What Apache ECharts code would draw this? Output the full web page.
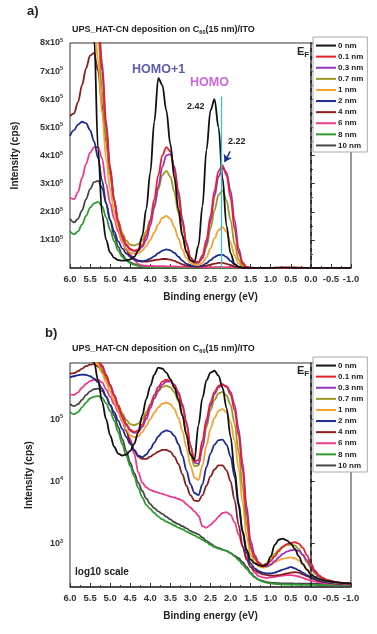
<!DOCTYPE html>
<html>
<head>
<meta charset="utf-8">
<script src="https://cdn.jsdelivr.net/npm/echarts@6/dist/echarts.min.js"></script>
<style>
  html, body { margin: 0; padding: 0; background: #fff; }
  #chart { width: 377px; height: 634px; }
</style>
</head>
<body>
<div id="chart"></div>
<script>
// binding energy grid (eV), shared by every spectrum
const energy = [6.0, 5.9, 5.8, 5.7, 5.6, 5.5, 5.4, 5.3, 5.2, 5.1, 5.0, 4.9, 4.8, 4.7, 4.6, 4.5, 4.4, 4.3, 4.2, 4.1,
  4.0, 3.9, 3.8, 3.7, 3.6, 3.5, 3.4, 3.3, 3.2, 3.1, 3.0, 2.9, 2.8, 2.7, 2.6, 2.5, 2.4, 2.3, 2.2, 2.1,
  2.0, 1.9, 1.8, 1.7, 1.6, 1.5, 1.4, 1.3, 1.2, 1.1, 1.0, 0.9, 0.8, 0.7, 0.6, 0.5, 0.4, 0.3, 0.2, 0.1,
  0.0, -0.1, -0.2, -0.3, -0.4, -0.5, -0.6, -0.7, -0.8, -0.9, -1.0]

const thickness = ['0 nm', '0.1 nm', '0.3 nm', '0.7 nm', '1 nm', '2 nm', '4 nm', '6 nm', '8 nm', '10 nm']
const colors = ['#111111', '#e8202a', '#9632c0', '#9a9a1e', '#f5a030', '#1c2a8c', '#8b1c1c', '#ee3a8c', '#2e9a30', '#454545']

// intensity (cps)
const cps0 = [1150000, 1180000, 1200000, 1200000, 1150000, 1050000, 820000, 420000, 190000, 100000,
  55000, 36000, 28000, 26000, 27000, 31000, 40000, 62000, 115000, 210000,
  340000, 520000, 675000, 650000, 560000, 440000, 320000, 210000, 115000, 56000,
  27000, 22000, 80000, 220000, 420000, 560000, 600000, 500000, 320000, 150000,
  52000, 15000, 4500, 1600, 800, 550, 480, 450, 430, 460,
  620, 950, 1150, 1200, 1120, 1000, 820, 620, 470, 380,
  320, 290, 270, 258, 250, 245, 240, 235, 232, 230, 230]
const cps01 = [1100000, 1120000, 1150000, 1150000, 1100000, 1000000, 950000, 880000, 700000, 500000,
  350000, 240000, 165000, 115000, 85000, 68000, 62000, 66000, 82000, 115000,
  170000, 245000, 330000, 400000, 430000, 415000, 350000, 255000, 160000, 85000,
  38000, 21000, 22000, 45000, 100000, 185000, 275000, 345000, 365000, 330000,
  250000, 140000, 55000, 15000, 3000, 900, 600, 480, 450, 460,
  520, 620, 750, 880, 980, 1020, 1050, 1000, 850, 650,
  480, 370, 310, 280, 260, 250, 242, 236, 232, 228, 225]
const cps03 = [1100000, 1120000, 1150000, 1150000, 1120000, 1020000, 960000, 900000, 730000, 520000,
  360000, 245000, 165000, 110000, 80000, 65000, 60000, 62000, 75000, 100000,
  150000, 215000, 290000, 360000, 400000, 405000, 360000, 275000, 175000, 90000,
  38000, 20000, 19000, 35000, 85000, 165000, 255000, 325000, 355000, 340000,
  275000, 170000, 70000, 20000, 4000, 1100, 650, 500, 440, 430,
  460, 520, 600, 680, 740, 780, 790, 760, 660, 540,
  430, 350, 300, 275, 258, 248, 240, 235, 230, 227, 225]
const cps07 = [1100000, 1120000, 1150000, 1150000, 1100000, 1000000, 920000, 830000, 630000, 460000,
  330000, 240000, 170000, 125000, 97000, 83000, 80000, 85000, 100000, 130000,
  170000, 220000, 280000, 330000, 345000, 325000, 270000, 195000, 115000, 58000,
  27000, 17500, 18000, 35000, 75000, 140000, 205000, 260000, 275000, 240000,
  170000, 85000, 30000, 8000, 2000, 800, 560, 470, 450, 480,
  560, 680, 800, 900, 950, 960, 930, 820, 650, 500,
  400, 330, 290, 268, 255, 246, 240, 235, 231, 228, 226]
const cps1 = [1080000, 1100000, 1120000, 1120000, 1060000, 950000, 860000, 740000, 550000, 390000,
  280000, 200000, 140000, 95000, 68000, 55000, 51000, 53000, 62000, 78000,
  100000, 127000, 155000, 178000, 185000, 175000, 145000, 105000, 65000, 35000,
  18000, 11500, 10500, 18000, 38000, 70000, 105000, 135000, 145000, 128000,
  90000, 45000, 16000, 4500, 1300, 650, 500, 430, 410, 420,
  450, 500, 540, 570, 590, 600, 580, 530, 460, 390,
  330, 290, 268, 255, 247, 241, 236, 232, 229, 226, 224]
const cps2 = [470000, 490000, 510000, 520000, 515000, 490000, 450000, 390000, 310000, 230000,
  170000, 130000, 95000, 70000, 52000, 40000, 32000, 26000, 24500, 27000,
  33000, 42000, 53000, 62000, 66000, 63000, 54000, 40000, 26000, 15000,
  9000, 6500, 6000, 9000, 17000, 28000, 39000, 46000, 47000, 39000,
  25000, 12000, 4000, 1500, 700, 480, 400, 360, 340, 330,
  330, 340, 360, 380, 400, 420, 400, 370, 340, 310,
  290, 270, 255, 245, 238, 234, 230, 228, 226, 224, 222]
const cps4 = [540000, 550000, 590000, 650000, 710000, 755000, 765000, 700000, 580000, 450000,
  340000, 240000, 160000, 100000, 65000, 43000, 31000, 25000, 23000, 23000,
  25000, 27500, 30000, 32000, 32000, 30000, 25000, 19000, 13000, 8500,
  6000, 4900, 4800, 6000, 8500, 12000, 15500, 18000, 18000, 15000,
  10000, 5000, 2000, 900, 550, 420, 370, 340, 320, 310,
  305, 305, 310, 320, 330, 340, 345, 340, 320, 300,
  280, 265, 252, 243, 237, 232, 229, 226, 224, 222, 220]
const cps6 = [250000, 245000, 270000, 320000, 370000, 410000, 430000, 430000, 390000, 300000,
  230000, 175000, 130000, 92000, 66000, 48000, 28000, 14000, 9500, 8000,
  7300, 6900, 6600, 6300, 6000, 5700, 5500, 5200, 4900, 4300,
  3800, 3300, 2800, 1900, 1800, 2000, 2300, 2700, 3100, 3200,
  2900, 2200, 1400, 900, 600, 420, 340, 300, 285, 280,
  285, 290, 300, 305, 310, 310, 305, 295, 280, 265,
  255, 245, 238, 233, 229, 226, 224, 222, 221, 220, 219]
const cps8 = [130000, 120000, 130000, 155000, 185000, 215000, 230000, 235000, 220000, 180000,
  135000, 95000, 62000, 40000, 26000, 17500, 12000, 7800, 5500, 4200,
  3600, 3100, 2700, 2450, 2250, 2100, 1950, 1800, 1700, 1550,
  1450, 1350, 1250, 1150, 1050, 950, 880, 830, 800, 760,
  700, 620, 540, 460, 390, 330, 285, 260, 245, 235,
  228, 224, 222, 220, 219, 218, 218, 217, 217, 216,
  216, 216, 215, 215, 215, 215, 215, 215, 215, 215, 215]
const cps10 = [175000, 162000, 175000, 205000, 245000, 280000, 305000, 310000, 285000, 230000,
  170000, 115000, 75000, 48000, 31000, 20000, 13500, 9500, 7000, 5300,
  4300, 3700, 3300, 3000, 2700, 2450, 2200, 2050, 1900, 1750,
  1600, 1500, 1400, 1250, 1100, 1000, 900, 850, 800, 760,
  700, 640, 580, 500, 420, 340, 290, 262, 250, 240,
  235, 232, 230, 229, 228, 228, 227, 227, 226, 226,
  226, 225, 225, 225, 225, 225, 225, 225, 225, 225, 225]
const spectra = [cps0, cps01, cps03, cps07, cps1, cps2, cps4, cps6, cps8, cps10]

const xTicks = {min: -1, max: 6, interval: 0.5}
const linMax = 800000
const logRange = [200, 800000]

const font = 'Liberation Sans, Arial, sans-serif'
const chart = echarts.init(document.getElementById('chart'))

const xAxisOptions = function (gridIndex) {
  return {
    type: 'value',
    gridIndex: gridIndex,
    inverse: true,
    min: xTicks.min,
    max: xTicks.max,
    interval: xTicks.interval,
    name: 'Binding energy (eV)',
    nameLocation: 'middle',
    nameGap: 24,
    nameTextStyle: {fontFamily: font, fontWeight: 'bold', fontSize: 10, color: '#222'},
    axisLine: {onZero: false, lineStyle: {color: '#333', width: 1.5}},
    axisTick: {inside: true, length: 4, lineStyle: {color: '#333'}},
    minorTick: {show: true, splitNumber: 2, length: 2, lineStyle: {color: '#333'}},
    splitLine: {show: false},
    axisLabel: {
      fontFamily: font, fontWeight: 'bold', fontSize: 9.5, color: '#333', margin: 6,
      formatter: v => v.toFixed(1)
    }
  }
}

const powRich = {
  b: {fontFamily: font, fontWeight: 'bold', fontSize: 9, color: '#333', lineHeight: 11},
  s: {fontFamily: font, fontWeight: 'bold', fontSize: 5.5, color: '#333', lineHeight: 11, verticalAlign: 'top'}
}

const legendOptions = function (top) {
  return {
    data: thickness,
    orient: 'vertical',
    left: 313,
    top: top,
    icon: 'rect',
    itemWidth: 20,
    itemHeight: 2,
    itemGap: 0,
    padding: [3, 4, 1, 3],
    backgroundColor: '#fff',
    borderColor: '#aaa',
    borderWidth: 1,
    textStyle: {fontFamily: font, fontWeight: 'bold', fontSize: 8, color: '#222', lineHeight: 11.1, padding: [0, 0, 0, -3]}
  }
}

const series = []
spectra.forEach((vals, k) => {
  [0, 1].forEach(g => {
    const s = {
      name: thickness[k],
      type: 'line',
      xAxisIndex: g,
      yAxisIndex: g,
      data: energy.map((e, i) => [e, vals[i]]),
      showSymbol: false,
      smooth: 0.35,
      smoothMonotone: 'x',
      clip: true,
      lineStyle: {width: 1.8, color: colors[k]},
      itemStyle: {color: colors[k]},
      z: 2 + (9 - k) * 0.01
    }
    if (k === 0) {
      s.markLine = {
        silent: true,
        symbol: 'none',
        label: {show: false},
        lineStyle: {color: '#222', type: [4, 4], width: 1.5},
        data: [{xAxis: 0}]
      }
      if (g === 0) {
        s.markLine.data.push([
          {coord: [2.22, 0], lineStyle: {color: '#3cc0d0', type: 'solid', width: 1.3}},
          {coord: [2.22, 610000]}
        ])
        s.markLine.data.push([
          {coord: [2.01, 415000], symbol: 'none', lineStyle: {color: '#1c2a8c', type: 'solid', width: 1.5}},
          {coord: [2.15, 377000], symbol: 'arrow', symbolSize: 7}
        ])
      }
    }
    series.push(s)
  })
})

const bold = (x, y, text, size, color) => ({
  type: 'text', left: x, top: y, z: 10,
  style: {text: text, font: `bold ${size}px ${font}`, fill: color || '#222'}
})
const titleRich = {
  t: {fontFamily: font, fontWeight: 'bold', fontSize: 9, lineHeight: 11, fill: '#222'},
  u: {fontFamily: font, fontWeight: 'bold', fontSize: 5.5, lineHeight: 11, fill: '#222', verticalAlign: 'bottom'}
}
const efRich = {
  e: {fontFamily: font, fontWeight: 'bold', fontSize: 11, lineHeight: 14, fill: '#222'},
  f: {fontFamily: font, fontWeight: 'bold', fontSize: 8, lineHeight: 14, fill: '#222', verticalAlign: 'bottom'}
}
const titleText = '{t|UPS_HAT-CN deposition on C}{u|60}{t|(15 nm)/ITO}'

chart.setOption({
  animation: false,
  backgroundColor: '#fff',
  grid: [
    {left: 70, right: 26, top: 43, height: 225, show: true, borderColor: '#333', borderWidth: 1},
    {left: 70, right: 26, top: 363, height: 224, show: true, borderColor: '#333', borderWidth: 1}
  ],
  xAxis: [xAxisOptions(0), xAxisOptions(1)],
  yAxis: [
    {
      type: 'value', gridIndex: 0, min: 0, max: linMax, interval: 100000,
      name: 'Intensity (cps)', nameLocation: 'middle', nameGap: 50,
      nameTextStyle: {fontFamily: font, fontWeight: 'bold', fontSize: 10, color: '#222'},
      axisLine: {show: true, lineStyle: {color: '#333', width: 1.5}},
      axisTick: {show: true, inside: true, length: 4, lineStyle: {color: '#333'}},
      minorTick: {show: true, splitNumber: 2, length: 2, lineStyle: {color: '#333'}},
      splitLine: {show: false},
      axisLabel: {
        margin: 7, rich: powRich,
        formatter: v => v === 0 ? '' : `{b|${Math.round(v / 100000)}x10}{s|5}`
      }
    },
    {
      type: 'log', logBase: 10, gridIndex: 1, min: logRange[0], max: logRange[1],
      name: 'Intensity (cps)', nameLocation: 'middle', nameGap: 36,
      nameTextStyle: {fontFamily: font, fontWeight: 'bold', fontSize: 10, color: '#222'},
      axisLine: {show: true, lineStyle: {color: '#333', width: 1.5}},
      axisTick: {show: true, inside: true, length: 4, lineStyle: {color: '#333'}},
      splitLine: {show: false},
      axisLabel: {
        margin: 7, rich: powRich, showMinLabel: false, showMaxLabel: false,
        formatter: v => {
          const p = Math.log10(v)
          if (Math.abs(p - Math.round(p)) > 0.01) return ''
          return `{b|10}{s|${Math.round(p)}}`
        }
      }
    }
  ],
  legend: [legendOptions(37), legendOptions(357)],
  series: series,
  graphic: [
    bold(27, 5, 'a)', 13),
    bold(45, 327, 'b)', 13),
    {type: 'text', left: 72, top: 25, z: 10, style: {text: titleText, rich: titleRich}},
    {type: 'text', left: 72, top: 344, z: 10, style: {text: titleText, rich: titleRich}},
    bold(132, 63, 'HOMO+1', 12.5, '#5c5cae'),
    bold(190, 76, 'HOMO', 12.5, '#cc66e0'),
    bold(187, 102, '2.42', 9),
    bold(228, 137, '2.22', 9),
    {type: 'text', left: 297, top: 46, z: 10, style: {text: '{e|E}{f|F}', rich: efRich}},
    {type: 'text', left: 297, top: 365, z: 10, style: {text: '{e|E}{f|F}', rich: efRich}},
    bold(75, 567, 'log10 scale', 10)
  ]
})
</script>
</body>
</html>
